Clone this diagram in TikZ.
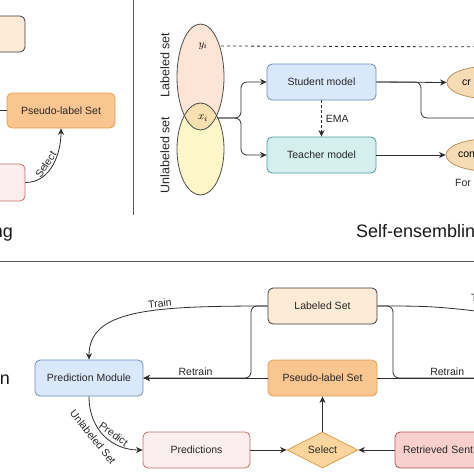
\documentclass[tikz,border=0pt]{standalone}
\usepackage{fontspec}
\setmainfont{Liberation Sans}
\usetikzlibrary{shapes,arrows,arrows.meta,positioning}

\definecolor{blueF}{HTML}{DAE8FC}\definecolor{blueD}{HTML}{6C8EBF}
\definecolor{tealF}{HTML}{D5EFEF}\definecolor{tealD}{HTML}{4E9C9C}
\definecolor{orangeF}{HTML}{F9C591}\definecolor{orangeD}{HTML}{E0A050}
\definecolor{peachF}{HTML}{FDEBD7}\definecolor{darkD}{HTML}{3C3C3C}
\definecolor{pinkF}{HTML}{FCEEEE}\definecolor{pinkD}{HTML}{C0706C}
\definecolor{roseF}{HTML}{F8D0CE}\definecolor{roseD}{HTML}{B85450}
\definecolor{selF}{HTML}{FAD59D}
\definecolor{tanF}{HTML}{F7DBB5}\definecolor{tanD}{HTML}{B8955E}
\definecolor{labE}{HTML}{FCE4D6}\definecolor{unlE}{HTML}{FDF6C9}\definecolor{lensE}{HTML}{FADFB0}
\definecolor{lineC}{HTML}{2E2E2E}

\begin{document}
\begin{tikzpicture}[x=1pt,y=-1pt,>={Stealth[length=6.5pt,width=6pt,inset=2pt]},
    box/.style={draw,rounded corners=5pt,minimum width=109pt,minimum height=36pt,inner sep=0pt,line width=0.8pt,text=black!85,font=\fontsize{10.5}{12}\selectfont},
    ell/.style={ellipse,draw=tanD,fill=tanF,line width=0.8pt,minimum width=80pt,minimum height=32pt,inner sep=0pt,text width=50pt,align=left,font=\fontsize{10.5}{12}\selectfont},
    lbl/.style={inner sep=2pt,text=black!85,font=\fontsize{10.5}{12}\selectfont},
    setlbl/.style={inner sep=0pt,text=black!85,font=\fontsize{12.5}{14}\selectfont},
    title/.style={inner sep=0pt,text=black!90,font=\fontsize{18}{20}\selectfont},
    line/.style={draw=lineC,line width=0.8pt},
    sep/.style={draw=black!65,line width=1pt},
    ellD/.style={draw=black!70,line width=0.8pt}]
\useasboundingbox (0,0) rectangle (474,474);
\clip (0,0) rectangle (474,474);

% panel separators
\draw[sep] (133,0) -- (133,215);
\draw[sep] (0,261) -- (474,261);

% self-training (cut at the left)
\node[box,fill=peachF,draw=darkD,minimum width=105pt] (TopSet) at (-27.5,34) {};
\node[box,fill=orangeF,draw=orangeD,minimum width=108pt,minimum height=35pt] (Pseudo) at (61,110.5) {Pseudo-label Set};
\node[box,fill=pinkF,draw=pinkD,minimum width=105pt,minimum height=37pt] (BotSet) at (-27.5,182.5) {};
\coordinate (InL) at (-20,110.5);
\draw[line] (InL) -- (Pseudo.west);
\draw[line,->] (BotSet.east) to[out=0,in=-90] node[pos=0.45,sloped,above,lbl]{Select} (Pseudo.south);
\node[title,anchor=base east] (TitleL) at (13,237) {ng};

% self-ensembling
\fill[unlE] (200.5,149) ellipse[x radius=23.5pt,y radius=46pt];
\fill[labE] (200.5,77) ellipse[x radius=23.5pt,y radius=53pt];
\begin{scope}
  \clip (200.5,77) ellipse[x radius=23.5pt,y radius=53pt];
  \fill[lensE] (200.5,149) ellipse[x radius=23.5pt,y radius=46pt];
\end{scope}
\draw[ellD] (200.5,77) ellipse[x radius=23.5pt,y radius=53pt];
\draw[ellD] (200.5,149) ellipse[x radius=23.5pt,y radius=46pt];
\node[setlbl,rotate=90] (LabTxt) at (165,65) {Labeled set};
\node[setlbl,rotate=90] (UnlTxt) at (165,155) {Unlabeled set};
\node[inner sep=0pt,minimum width=36pt,font=\fontsize{11}{13}\selectfont] (yi) at (203,46) {$y_i$};
\node[inner sep=0pt,minimum width=30pt,font=\fontsize{11}{13}\selectfont] (xi) at (203,118) {$x_i$};

\node[box,fill=blueF,draw=blueD] (Student) at (321.5,82) {Student model};
\node[box,fill=tealF,draw=tealD] (Teacher) at (321.5,155) {Teacher model};
\node[ell] (CrEll) at (487,82.5) {cr};
\node[ell,text width=58pt] (ConEll) at (487,155) {con};
\node[lbl,anchor=west,inner sep=0pt] (ForTxt) at (455,183) {For};
\node[title,anchor=base west] (TitleR) at (356,237) {Self-ensemblin};

\coordinate (Fork) at (241,118);
\coordinate (DashR) at (520,47);
\coordinate (LossR) at (520,118);
\draw[line,dash pattern=on 3pt off 3pt] (yi.east) -- (DashR);
\draw[line,->,rounded corners=6pt] (xi.east) -- (Fork) |- (Student.west);
\draw[line,->,rounded corners=6pt] (xi.east) -- (Fork) |- (Teacher.west);
\draw[line,->,dash pattern=on 3pt off 2pt] (Student.south) -- node[right=2pt,lbl]{EMA} (Teacher.north);
\draw[line,->] (Student.east) -- (CrEll.west);
\draw[line,rounded corners=6pt] (Student.east) -- (421,82) |- (LossR);
\draw[line,->] (Teacher.east) -- (ConEll.west);

% retrieval (bottom)
\node[box,fill=blueF,draw=blueD,minimum width=108pt] (PredMod) at (89,378) {Prediction Module};
\node[box,fill=peachF,draw=darkD] (LabSet) at (322.5,306) {Labeled Set};
\node[box,fill=orangeF,draw=orangeD] (PseudoSet) at (322.5,378) {Pseudo-label Set};
\node[diamond,aspect=2,draw=orangeD,fill=selF,line width=0.8pt,minimum width=71pt,minimum height=36pt,inner sep=0pt,text=black!85,font=\fontsize{10.5}{12}\selectfont] (Select) at (322.5,450) {Select};
\node[box,fill=pinkF,draw=pinkD,minimum width=107pt] (Preds) at (196.5,450) {Predictions};
\node[box,fill=roseF,draw=roseD,minimum width=120pt,text width=104pt,align=left] (Retr) at (455,450) {Retrieved Sent};
\node[lbl,anchor=west,inner sep=0pt] (TrainR) at (471,298) {T};
\node[title,anchor=base east] (TitleB) at (10,384) {n};
\coordinate (TrainEnd) at (560,322);
\coordinate (RetrainEnd) at (517,378);

\draw[line,->] (Preds.east) -- (Select.west);
\draw[line,->] (Retr.west) -- (Select.east);
\draw[line,->] (Select.north) -- (PseudoSet.south);
\draw[line,->] (PseudoSet.west) -- node[pos=0.58,above,lbl]{Retrain} (PredMod.east);
\draw[line,->,rounded corners=6pt] (LabSet.west) -- (251,306) |- (PredMod.east);
\draw[line,->] (LabSet.west) .. controls (150,306) and (89,310) .. node[pos=0.37,sloped,above,lbl]{Train} (PredMod.north);
\draw[line] (LabSet.east) .. controls (440,306) .. (TrainEnd);
\draw[line,rounded corners=6pt] (LabSet.east) -- (393,306) |- (RetrainEnd);
\draw[line] (PseudoSet.east) -- node[above,lbl]{Retrain} (RetrainEnd);
\draw[line,->] (PredMod.south) .. controls +(0,34) and +(-30,0) .. node[pos=0.58,sloped,above=1pt,lbl]{Predict} node[pos=0.42,sloped,below=3pt,lbl]{Unlabeled Set} (Preds.west);
\end{tikzpicture}
\end{document}
